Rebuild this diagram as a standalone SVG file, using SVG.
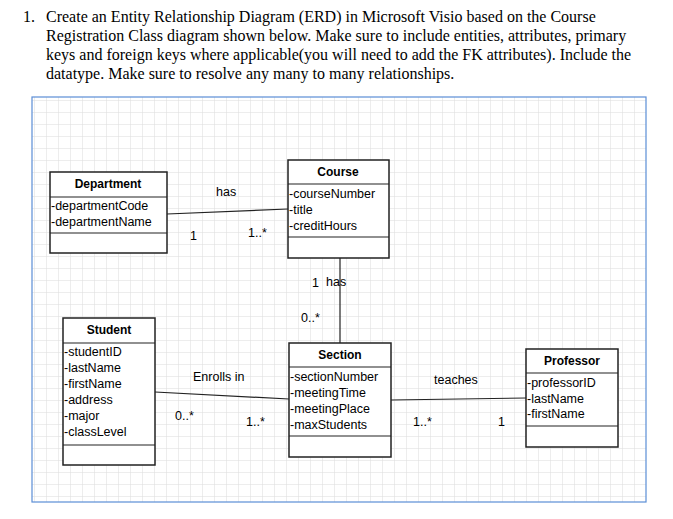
<svg xmlns="http://www.w3.org/2000/svg" width="673" height="519" viewBox="0 0 673 519">
<style>
.q{font-family:"Liberation Serif",serif;font-size:16px;fill:#000}
.t{font-family:"Liberation Sans",Arial,sans-serif;font-size:12.5px;fill:#000}
.h{font-family:"Liberation Sans",Arial,sans-serif;font-size:12px;font-weight:bold;fill:#000}
.box{fill:#fff;stroke:#222;stroke-width:1.5}
.ln{stroke:#222;stroke-width:1.2;fill:none}
</style>
<defs>
<pattern id="g" x="10" y="4" width="12" height="12" patternUnits="userSpaceOnUse">
<path d="M0 0H12M0 0V12" stroke="#dcdcdc" stroke-width="1" fill="none"/>
</pattern>
</defs>
<rect width="673" height="519" fill="#fff"/>
<text class="q" x="23" y="22">1.</text>
<text class="q" x="46" y="22">Create an Entity Relationship Diagram (ERD) in Microsoft Visio based on the Course</text>
<text class="q" x="46" y="41">Registration Class diagram shown below. Make sure to include entities, attributes, primary</text>
<text class="q" x="46" y="60">keys and foreign keys where applicable(you will need to add the FK attributes).  Include the</text>
<text class="q" x="46" y="79">datatype. Make sure to resolve any many to many relationships.</text>
<rect x="32" y="97" width="614" height="405" fill="url(#g)" stroke="#5b8ed6" stroke-width="1.2"/>
<g id="connectors">
<path class="ln" d="M167 214L288 209"/>
<path class="ln" d="M340 258V343"/>
<path class="ln" d="M155 392L289 399"/>
<path class="ln" d="M391 400L526 398"/>
</g>
<g id="labels">
<text class="t" x="216" y="196">has</text>
<text class="t" x="190" y="240">1</text>
<text class="t" x="248" y="237">1..*</text>
<text class="t" x="312" y="287">1</text>
<text class="t" x="326" y="286">has</text>
<text class="t" x="301" y="322">0..*</text>
<text class="t" x="193" y="381">Enrolls in</text>
<text class="t" x="175" y="420">0..*</text>
<text class="t" x="246" y="426">1..*</text>
<text class="t" x="434" y="384">teaches</text>
<text class="t" x="413" y="426">1..*</text>
<text class="t" x="498" y="426">1</text>
</g>
<g id="department">
<rect class="box" x="50" y="172" width="117" height="81"/>
<path class="ln" d="M50 197H167M50 233H167"/>
<text class="h" x="108" y="188" text-anchor="middle">Department</text>
<text class="t" x="51" y="210">-departmentCode</text>
<text class="t" x="51" y="226">-departmentName</text>
</g>
<g id="course">
<rect class="box" x="288" y="160" width="101" height="98"/>
<path class="ln" d="M288 184H389M288 237H389"/>
<text class="h" x="338" y="176" text-anchor="middle">Course</text>
<text class="t" x="289" y="198">-courseNumber</text>
<text class="t" x="289" y="214">-title</text>
<text class="t" x="289" y="230">-creditHours</text>
</g>
<g id="student">
<rect class="box" x="63" y="318" width="92" height="147"/>
<path class="ln" d="M63 343H155M63 445H155"/>
<text class="h" x="109" y="334" text-anchor="middle">Student</text>
<text class="t" x="64" y="356">-studentID</text>
<text class="t" x="64" y="372">-lastName</text>
<text class="t" x="64" y="388">-firstName</text>
<text class="t" x="64" y="404">-address</text>
<text class="t" x="64" y="420">-major</text>
<text class="t" x="64" y="436">-classLevel</text>
</g>
<g id="section">
<rect class="box" x="289" y="343" width="102" height="114"/>
<path class="ln" d="M289 367H391M289 436H391"/>
<text class="h" x="340" y="359" text-anchor="middle">Section</text>
<text class="t" x="290" y="381">-sectionNumber</text>
<text class="t" x="290" y="397">-meetingTime</text>
<text class="t" x="290" y="413">-meetingPlace</text>
<text class="t" x="290" y="429">-maxStudents</text>
</g>
<g id="professor">
<rect class="box" x="526" y="349" width="92" height="98"/>
<path class="ln" d="M526 373H618M526 426H618"/>
<text class="h" x="572" y="365" text-anchor="middle">Professor</text>
<text class="t" x="527" y="387">-professorID</text>
<text class="t" x="527" y="403">-lastName</text>
<text class="t" x="527" y="418">-firstName</text>
</g>
</svg>
